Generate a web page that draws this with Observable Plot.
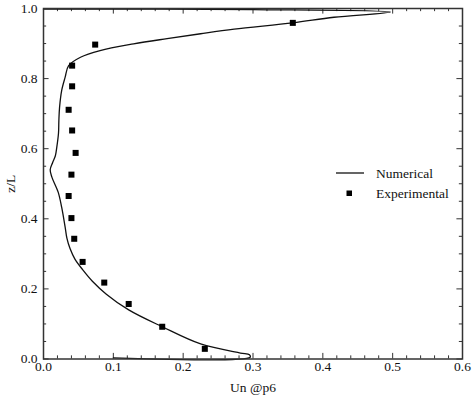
<!DOCTYPE html>
<html><head><meta charset="utf-8">
<script src="https://cdn.jsdelivr.net/npm/d3@7"></script>
<script src="https://cdn.jsdelivr.net/npm/@observablehq/plot@0.6"></script>
<style>
body{margin:0;background:#fff}
#wrap{position:relative;width:474px;height:399px;font-family:"Liberation Serif","Times New Roman",serif}
#wrap svg, #wrap svg text, #wrap svg g{font-family:"Liberation Serif","Times New Roman",serif !important}
#legend{position:absolute;left:0;top:0;pointer-events:none}
</style>
</head><body><div id="wrap"></div>
<script>
// Numerical profile (Un, z/L), traced bottom -> top
const numU = [0.10, 0.296, 0.295, 0.282, 0.225, 0.170, 0.122, 0.090, 0.070, 0.056, 0.045, 0.038, 0.0335, 0.031, 0.026, 0.021, 0.012, 0.0096, 0.013, 0.017, 0.019, 0.0215, 0.022, 0.023, 0.026, 0.031, 0.036, 0.053, 0.081, 0.129, 0.177, 0.225, 0.273, 0.357, 0.416, 0.497, 0.30, 0.0];
const numZ = [0.003, 0.005, 0.012, 0.017, 0.043, 0.092, 0.140, 0.185, 0.222, 0.255, 0.285, 0.315, 0.345, 0.376, 0.433, 0.476, 0.519, 0.540, 0.560, 0.580, 0.604, 0.645, 0.680, 0.718, 0.766, 0.804, 0.837, 0.861, 0.880, 0.899, 0.914, 0.928, 0.941, 0.959, 0.975, 0.990, 0.997, 0.998];
// Experimental points
const expU = [0.231, 0.170, 0.122, 0.087, 0.056, 0.044, 0.040, 0.036, 0.040, 0.046, 0.041, 0.036, 0.041, 0.041, 0.074, 0.357];
const expZ = [0.029, 0.092, 0.157, 0.218, 0.277, 0.343, 0.402, 0.465, 0.526, 0.588, 0.652, 0.711, 0.778, 0.837, 0.897, 0.959];
// Axis ticks
const xTickLabels = [0, 0.1, 0.2, 0.3, 0.4, 0.5, 0.6];
const yTickLabels = [0, 0.2, 0.4, 0.6, 0.8, 1.0];
const xMinor = d3.range(0, 0.6001, 0.02);
const yMinor = d3.range(0, 1.0001, 0.05);

const numerical = numU.map((u, i) => ({u, z: numZ[i]}));
const experimental = expU.map((u, i) => ({u, z: expZ[i]}));

const tickColor = "#333";
const serif = "'Liberation Serif', 'Times New Roman', serif";
const isMajorX = d => Math.abs(d * 10 - Math.round(d * 10)) < 1e-6;
const isMajorY = d => Math.abs(d * 5 - Math.round(d * 5)) < 1e-6;

const chart = Plot.plot({
  width: 474,
  height: 399,
  marginLeft: 43,
  marginRight: 12,
  marginTop: 8,
  marginBottom: 40.5,
  style: {fontFamily: serif, fontSize: "13.5px", color: "#111", background: "#fff"},
  x: {domain: [0, 0.6]},
  y: {domain: [0, 1]},
  marks: [
    // inward ticks: bottom & top
    Plot.ruleX(xMinor, {x: d => d, y1: 0, y2: d => isMajorX(d) ? 0.016 : 0.009, stroke: tickColor, strokeWidth: 1}),
    Plot.ruleX(xMinor, {x: d => d, y1: 1, y2: d => 1 - (isMajorX(d) ? 0.016 : 0.009), stroke: tickColor, strokeWidth: 1}),
    // inward ticks: left & right
    Plot.ruleY(yMinor, {y: d => d, x1: 0, x2: d => isMajorY(d) ? 0.008 : 0.0045, stroke: tickColor, strokeWidth: 1}),
    Plot.ruleY(yMinor, {y: d => d, x1: 0.6, x2: d => 0.6 - (isMajorY(d) ? 0.008 : 0.0045), stroke: tickColor, strokeWidth: 1}),
    Plot.axisX({ticks: xTickLabels, tickSize: 0, tickPadding: 2, tickFormat: d3.format(".1f"), fontFamily: serif,
      label: "Un @p6", labelAnchor: "center", labelArrow: false, labelOffset: 33}),
    Plot.axisY({ticks: yTickLabels, tickSize: 0, tickPadding: 6, tickFormat: d3.format(".1f"), fontFamily: serif,
      label: "z/L", labelAnchor: "center", labelArrow: false, labelOffset: 38}),
    Plot.line(numerical, {x: "u", y: "z", stroke: "#111", strokeWidth: 1.3, curve: "catmull-rom"}),
    Plot.dot(experimental, {x: "u", y: "z", symbol: "square", r: 3.4, fill: "#000", stroke: "none"}),
    Plot.frame({stroke: "#333", strokeWidth: 1.5})
  ]
});

const wrap = document.getElementById("wrap");
wrap.appendChild(chart);

// Legend overlay (inside plot area)
const ns = "http://www.w3.org/2000/svg";
const leg = document.createElementNS(ns, "svg");
leg.setAttribute("id", "legend");
leg.setAttribute("width", 474);
leg.setAttribute("height", 399);
leg.innerHTML = `
  <line x1="336" x2="364" y1="173" y2="173" stroke="#111" stroke-width="1.3"/>
  <text x="376" y="178" font-size="13.5" fill="#111">Numerical</text>
  <rect x="346.5" y="190.5" width="5.5" height="5.5" fill="#000"/>
  <text x="376" y="198" font-size="13.5" fill="#111">Experimental</text>`;
wrap.appendChild(leg);
</script>
</body></html>
